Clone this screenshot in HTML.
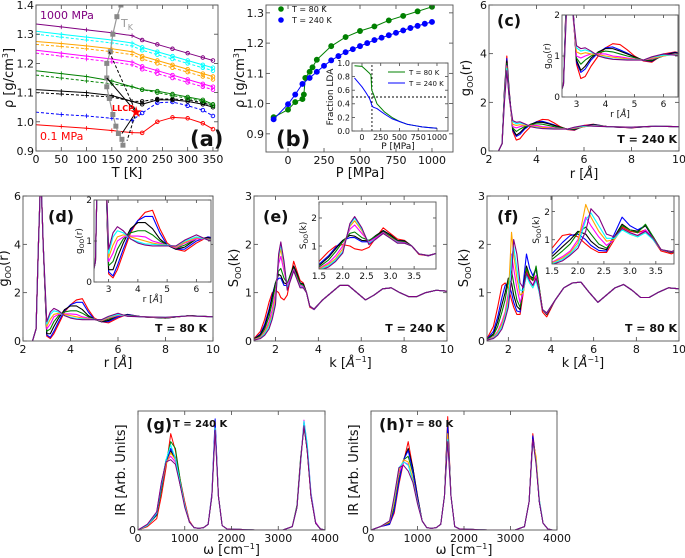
<!DOCTYPE html>
<html><head><meta charset="utf-8"><style>
html,body{margin:0;padding:0;background:#fff;}
svg{display:block;font-family:"DejaVu Sans","Liberation Sans",sans-serif;}
</style></head><body>
<svg id="chart" width="685" height="558" viewBox="0 0 685 558" xmlns="http://www.w3.org/2000/svg"></svg>
<script>
// ---------- DATA ----------
// (a) density vs T
const aT = [0,50,100,150,190,210,240,270,300,330,350];
const aSeriesColors = ['red','blue','black','black','green','green','magenta','magenta','orange','orange','cyan','cyan','purple'];
const aRho = [
 [0.99,0.984,0.978,0.97,0.963,0.962,1.0,1.015,1.012,0.995,0.975],
 [1.033,1.025,1.02,1.012,1.005,1.03,1.065,1.068,1.055,1.04,1.02],
 [1.11,1.105,1.1,1.09,1.07,1.06,1.075,1.075,1.07,1.06,1.05],
 [1.1,1.095,1.09,1.085,1.07,1.07,1.078,1.078,1.075,1.065,1.055],
 [1.175,1.165,1.155,1.14,1.12,1.11,1.105,1.095,1.085,1.075,1.06],
 [1.16,1.15,1.14,1.13,1.12,1.11,1.1,1.09,1.08,1.07,1.055],
 [1.245,1.235,1.225,1.215,1.205,1.19,1.175,1.16,1.145,1.13,1.12],
 [1.235,1.225,1.215,1.205,1.195,1.18,1.165,1.15,1.135,1.12,1.11],
 [1.275,1.268,1.26,1.25,1.24,1.225,1.21,1.195,1.18,1.165,1.155],
 [1.265,1.258,1.25,1.24,1.23,1.215,1.2,1.185,1.17,1.155,1.145],
 [1.31,1.3,1.29,1.28,1.27,1.255,1.24,1.225,1.21,1.195,1.185],
 [1.3,1.29,1.28,1.27,1.26,1.245,1.23,1.215,1.2,1.185,1.175],
 [1.335,1.325,1.315,1.305,1.295,1.28,1.265,1.25,1.235,1.22,1.21]
];
const tkT = [172,170,163,158,152,145,140,140,140,147,152,160,168];
const tkRho = [0.92,0.94,0.96,0.985,1.025,1.08,1.12,1.15,1.2,1.24,1.3,1.36,1.4];
const llcpT = [198], llcpRho = [1.033];
// (b)
const bP80 = [-100,0,50,100,110,120,150,170,200,300,400,500,600,700,800,900,1000];
const bRho80 = [0.955,0.98,1.005,1.015,1.03,1.085,1.105,1.12,1.145,1.19,1.22,1.24,1.255,1.275,1.29,1.305,1.32];
const bP240 = [-100,0,50,100,150,200,250,300,350,400,450,500,550,600,650,700,750,800,850,900,950,1000];
const bRho240 = [0.948,0.998,1.03,1.065,1.085,1.105,1.125,1.143,1.157,1.17,1.18,1.19,1.2,1.21,1.218,1.226,1.234,1.242,1.25,1.257,1.264,1.27];
const fracP = [-100,0,50,100,120,130,150,200,300,400,500,600,700,800,900,1000];
const frac80 = [0.96,0.95,0.9,0.85,0.82,0.6,0.55,0.4,0.28,0.2,0.14,0.1,0.08,0.06,0.05,0.04];
const frac240 = [0.78,0.65,0.57,0.48,0.42,0.38,0.35,0.33,0.25,0.18,0.14,0.1,0.08,0.06,0.05,0.04];
// (c),(d) g(r)
const rGrid = [2.4,2.55,2.65,2.75,2.85,3.0,3.15,3.3,3.5,3.75,4.0,4.25,4.5,4.75,5.0,5.3,5.6,6.0,6.4,7,8,9,10];
const cColors = ['red','blue','black','green','magenta','orange','cyan','purple'];
const g240 = [
 [0,0.3,2.5,3.9,2.5,0.8,0.45,0.5,0.75,1.0,1.2,1.3,1.28,1.15,1.0,0.88,0.85,1.05,1.1,1.0,0.95,1.02,1.0],
 [0,0.3,2.45,3.8,2.45,0.85,0.6,0.68,0.9,1.08,1.2,1.22,1.15,1.07,0.98,0.89,0.87,1.03,1.09,1.0,0.96,1.02,1.0],
 [0,0.3,2.4,3.7,2.4,0.9,0.65,0.75,0.95,1.1,1.18,1.18,1.12,1.05,0.98,0.9,0.88,1.02,1.08,1.0,0.96,1.02,1.0],
 [0,0.3,2.3,3.6,2.3,0.95,0.8,0.9,1.0,1.08,1.12,1.1,1.05,1.0,0.96,0.9,0.9,1.0,1.06,1.0,0.97,1.02,1.0],
 [0,0.3,2.2,3.5,2.2,1.0,0.95,1.0,1.05,1.05,1.05,1.0,0.98,0.95,0.93,0.9,0.93,1.0,1.05,1.0,0.97,1.02,1.0],
 [0,0.3,2.15,3.45,2.2,1.1,1.05,1.08,1.05,1.03,1.0,0.97,0.95,0.93,0.92,0.9,0.95,1.0,1.04,1.0,0.98,1.02,1.0],
 [0,0.3,2.1,3.4,2.2,1.2,1.12,1.15,1.1,1.0,0.97,0.93,0.92,0.91,0.91,0.9,0.97,1.02,1.03,1.0,0.98,1.02,1.0],
 [0,0.3,2.0,3.3,2.2,1.25,1.18,1.2,1.12,1.0,0.95,0.92,0.91,0.9,0.9,0.9,0.98,1.05,1.02,1.0,0.98,1.02,1.0]
];
const g80 = [
 [0,0.5,4,7,4,0.2,0.1,0.3,0.7,1.2,1.5,1.7,1.75,1.3,0.95,0.8,0.75,0.95,1.1,1.0,0.95,1.05,1.0],
 [0,0.5,4,7,4,0.25,0.15,0.4,0.8,1.25,1.5,1.6,1.6,1.2,0.9,0.8,0.8,1.0,1.1,1.0,0.95,1.05,1.0],
 [0,0.5,4,7,4,0.3,0.3,0.6,0.95,1.3,1.45,1.45,1.3,1.05,0.9,0.8,0.85,1.05,1.08,1.0,0.95,1.05,1.0],
 [0,0.5,4,7,4,0.4,0.5,0.8,1.05,1.2,1.25,1.25,1.15,1.0,0.9,0.82,0.9,1.05,1.06,1.0,0.96,1.05,1.0],
 [0,0.5,4,7,4,0.5,0.7,1.0,1.1,1.12,1.12,1.1,1.0,0.95,0.9,0.83,0.95,1.05,1.05,1.0,0.97,1.04,1.0],
 [0,0.5,4,7,4,0.6,0.9,1.1,1.15,1.1,1.05,1.0,0.95,0.92,0.9,0.85,0.97,1.08,1.04,1.0,0.97,1.04,1.0],
 [0,0.5,4,7,4,0.7,1.1,1.25,1.2,1.05,0.98,0.93,0.92,0.9,0.9,0.87,1.0,1.1,1.03,1.0,0.98,1.04,1.0],
 [0,0.5,4,7,4,0.8,1.2,1.35,1.25,1.05,0.95,0.9,0.88,0.88,0.88,0.88,1.02,1.15,1.02,1.0,0.98,1.04,1.0]
];
// (e),(f) S(k)
const kGrid = [1,1.3,1.5,1.7,1.85,2.0,2.15,2.25,2.4,2.55,2.7,2.85,3.0,3.15,3.3,3.45,3.6,3.8,4.2,4.6,5.0,5.4,5.8,6.2,6.6,7.0,7.4,7.8,8.2,8.6,9.0,9.5,10];
const s240Tail = [0.85,1.0,1.15,1.15,1.0,0.85,0.95,1.08,1.1,1.0,0.92,0.92,1.0,1.05,1.03];
const s80Tail = [0.85,1.1,1.2,1.22,1.0,0.8,0.95,1.1,1.17,1.05,0.9,0.9,1.0,1.1,1.08];
const s240Head = [
 [0.05,0.2,0.45,0.8,1.0,1.05,1.0,0.9,0.85,0.95,1.3,1.65,1.45,1.25,1.2,1.0,0.7,0.65],
 [0.04,0.15,0.35,0.65,0.95,1.2,1.3,1.3,1.15,1.15,1.35,1.55,1.4,1.2,1.18,1.0,0.72,0.65],
 [0.04,0.13,0.3,0.6,0.9,1.2,1.38,1.35,1.2,1.18,1.38,1.55,1.4,1.2,1.18,1.0,0.72,0.66],
 [0.03,0.1,0.25,0.5,0.8,1.15,1.45,1.5,1.3,1.2,1.35,1.5,1.35,1.18,1.15,1.0,0.72,0.66],
 [0.03,0.08,0.2,0.4,0.65,1.0,1.6,1.75,1.45,1.15,1.3,1.48,1.3,1.15,1.12,1.0,0.72,0.66],
 [0.03,0.07,0.18,0.35,0.55,0.9,1.7,1.9,1.55,1.1,1.25,1.45,1.3,1.12,1.1,1.0,0.72,0.66],
 [0.02,0.06,0.15,0.3,0.5,0.8,1.75,2.0,1.6,1.1,1.25,1.45,1.28,1.12,1.1,1.0,0.72,0.66],
 [0.02,0.05,0.12,0.25,0.45,0.75,1.8,2.05,1.65,1.05,1.25,1.45,1.28,1.1,1.1,1.0,0.72,0.66]
];
const s80Head = [
 [0.05,0.3,0.7,1.15,1.2,1.1,0.85,0.7,0.55,0.55,1.0,1.45,1.3,1.25,1.35,1.0,0.6,0.5],
 [0.04,0.2,0.5,0.9,1.15,1.2,1.0,0.8,0.62,0.6,1.2,1.8,1.5,1.35,1.5,1.05,0.65,0.55],
 [0.03,0.15,0.4,0.75,1.0,1.3,1.2,0.95,0.72,0.65,1.1,1.55,1.35,1.3,1.5,1.1,0.65,0.55],
 [0.03,0.12,0.3,0.6,0.85,1.25,1.45,1.2,0.85,0.7,1.05,1.5,1.35,1.25,1.55,1.1,0.65,0.56],
 [0.02,0.08,0.2,0.4,0.6,1.0,1.8,1.5,1.1,0.8,1.0,1.4,1.25,1.15,1.35,1.05,0.65,0.57],
 [0.02,0.07,0.18,0.35,0.55,0.9,2.25,1.8,1.3,0.95,1.0,1.4,1.2,1.1,1.3,1.05,0.65,0.58],
 [0.02,0.06,0.15,0.3,0.5,0.8,1.7,1.95,1.5,1.05,1.05,1.35,1.2,1.1,1.25,1.0,0.65,0.58],
 [0.02,0.05,0.12,0.25,0.45,0.7,1.3,2.1,1.8,1.2,1.1,1.4,1.25,1.15,1.3,1.05,0.65,0.58]
];
// (g),(h) IR spectra
const wGrid = [0,200,400,500,600,700,800,900,1000,1100,1200,1300,1400,1500,1580,1650,1720,1800,1900,2500,3100,3300,3400,3480,3550,3620,3700,3800,3900,4000];
const irColors = ['red','black','green','blue','magenta','orange','cyan','purple'];
const ir240 = [
 [0,0.03,0.1,0.3,0.55,0.85,0.7,0.45,0.25,0.08,0.02,0.015,0.02,0.05,0.3,0.9,0.3,0.04,0.01,0,0,0.03,0.2,0.6,0.95,0.7,0.3,0.06,0.01,0],
 [0,0.04,0.15,0.4,0.62,0.7,0.62,0.4,0.22,0.07,0.02,0.015,0.02,0.05,0.3,0.92,0.3,0.04,0.01,0,0,0.03,0.2,0.62,0.93,0.7,0.3,0.06,0.01,0],
 [0,0.04,0.13,0.35,0.6,0.78,0.72,0.45,0.22,0.07,0.02,0.015,0.02,0.05,0.3,0.9,0.3,0.04,0.01,0,0,0.03,0.22,0.65,0.9,0.72,0.32,0.06,0.01,0],
 [0,0.04,0.14,0.38,0.58,0.72,0.64,0.42,0.22,0.07,0.02,0.015,0.02,0.05,0.32,0.98,0.3,0.04,0.01,0,0,0.03,0.2,0.63,0.92,0.72,0.3,0.06,0.01,0],
 [0,0.05,0.16,0.42,0.6,0.65,0.6,0.42,0.22,0.07,0.02,0.015,0.02,0.05,0.3,0.88,0.3,0.04,0.01,0,0,0.03,0.2,0.6,0.97,0.75,0.33,0.07,0.01,0],
 [0,0.04,0.15,0.4,0.58,0.68,0.62,0.42,0.22,0.07,0.02,0.015,0.02,0.05,0.3,0.9,0.3,0.04,0.01,0,0,0.03,0.2,0.62,0.93,0.72,0.3,0.06,0.01,0],
 [0,0.04,0.15,0.4,0.62,0.75,0.63,0.42,0.22,0.07,0.02,0.015,0.02,0.05,0.3,0.9,0.3,0.04,0.01,0,0,0.03,0.2,0.6,0.96,0.76,0.32,0.06,0.01,0],
 [0,0.05,0.16,0.42,0.6,0.62,0.58,0.4,0.2,0.07,0.02,0.015,0.02,0.05,0.3,0.88,0.3,0.04,0.01,0,0,0.03,0.2,0.62,0.92,0.7,0.3,0.06,0.01,0]
];
const ir80 = [
 [0,0.03,0.05,0.15,0.4,0.6,0.78,0.55,0.3,0.08,0.02,0.015,0.02,0.05,0.3,1.0,0.3,0.03,0.01,0,0,0.03,0.25,0.85,0.6,0.25,0.06,0.01,0,0],
 [0,0.03,0.06,0.2,0.45,0.62,0.72,0.55,0.3,0.08,0.02,0.015,0.02,0.05,0.3,0.95,0.3,0.03,0.01,0,0,0.03,0.25,0.82,0.62,0.25,0.06,0.01,0,0],
 [0,0.03,0.06,0.2,0.45,0.62,0.65,0.5,0.28,0.08,0.02,0.015,0.02,0.05,0.3,0.85,0.3,0.03,0.01,0,0,0.03,0.25,0.8,0.62,0.25,0.06,0.01,0,0],
 [0,0.03,0.05,0.17,0.42,0.62,0.7,0.52,0.28,0.08,0.02,0.015,0.02,0.05,0.3,0.92,0.3,0.03,0.01,0,0,0.03,0.25,0.83,0.6,0.25,0.06,0.01,0,0],
 [0,0.03,0.07,0.25,0.5,0.6,0.58,0.45,0.25,0.08,0.02,0.015,0.02,0.05,0.3,0.8,0.3,0.03,0.01,0,0,0.03,0.25,0.78,0.62,0.27,0.06,0.01,0,0],
 [0,0.03,0.07,0.25,0.52,0.62,0.6,0.45,0.25,0.08,0.02,0.015,0.02,0.05,0.3,0.85,0.3,0.03,0.01,0,0,0.03,0.25,0.78,0.65,0.27,0.06,0.01,0,0],
 [0,0.03,0.08,0.28,0.55,0.6,0.57,0.43,0.24,0.08,0.02,0.015,0.02,0.05,0.3,0.8,0.3,0.03,0.01,0,0,0.03,0.25,0.78,0.6,0.27,0.06,0.01,0,0],
 [0,0.03,0.08,0.3,0.55,0.57,0.52,0.42,0.23,0.08,0.02,0.015,0.02,0.05,0.3,0.78,0.3,0.03,0.01,0,0,0.03,0.25,0.8,0.58,0.25,0.06,0.01,0,0]
];

// ---------- DRAWING ----------
const NS = 'http://www.w3.org/2000/svg';
const svg = document.getElementById('chart');
function mk(tag, parent) { const e = document.createElementNS(NS, tag); parent.appendChild(e); return e; }
function attrs(e, o) { for (const k in o) e.setAttribute(k, o[k]); return e; }
let clipN = 0;
function panel(name, x0, x1, y0, y1, dx, dy, xt, yt, fs, xfmt, yfmt) {
  const sx = v => x0 + (v - dx[0]) / (dx[1] - dx[0]) * (x1 - x0);
  const sy = v => y1 - (v - dy[0]) / (dy[1] - dy[0]) * (y1 - y0);
  const g = mk('g', svg);
  
  
  const bg = attrs(mk('rect', g), {x: x0, y: y0, width: x1 - x0, height: y1 - y0, fill: '#fff'});
  
  
  const cid = 'clip' + (clipN++);
  const cp = attrs(mk('clipPath', g), {id: cid});
  attrs(mk('rect', cp), {x: x0, y: y0, width: x1 - x0, height: y1 - y0});
  const series = attrs(mk('g', g), {'clip-path': 'url(#' + cid + ')'});
  
  
  const axes = mk('g', g);
  
  
  const tl = fs > 10 ? 4 : 3;
  xt.forEach(v => {
    const x = sx(v);
    attrs(mk('line', axes), {x1: x, x2: x, y1: y1, y2: y1 - tl, stroke: '#444', 'stroke-width': 0.8});
    attrs(mk('line', axes), {x1: x, x2: x, y1: y0, y2: y0 + tl, stroke: '#444', 'stroke-width': 0.8});
    const t = attrs(mk('text', axes), {x: x, y: y1 + fs + 1, 'font-size': fs, 'text-anchor': 'middle', fill: '#111'});
    t.textContent = xfmt ? xfmt(v) : String(v);
    
    
  });
  yt.forEach(v => {
    const y = sy(v);
    attrs(mk('line', axes), {x1: x0, x2: x0 + tl, y1: y, y2: y, stroke: '#444', 'stroke-width': 0.8});
    attrs(mk('line', axes), {x1: x1, x2: x1 - tl, y1: y, y2: y, stroke: '#444', 'stroke-width': 0.8});
    const t = attrs(mk('text', axes), {x: x0 - 2, y: y + fs * 0.36, 'font-size': fs, 'text-anchor': 'end', fill: '#111'});
    t.textContent = yfmt ? yfmt(v) : String(v);
    
    
  });
  const fr = attrs(mk('rect', axes), {x: x0, y: y0, width: x1 - x0, height: y1 - y0, fill: 'none', stroke: '#555', 'stroke-width': 0.9});
  
  
  return {sx, sy, series, g};
}
function line(p, xs, ys, color, w, name, dash) {
  let d = '';
  xs.forEach((x, i) => { d += (i ? 'L' : 'M') + p.sx(x).toFixed(2) + ',' + p.sy(ys[i]).toFixed(2); });
  const e = attrs(mk('path', p.series), {d: d, fill: 'none', stroke: color, 'stroke-width': w, 'stroke-linejoin': 'round'});
  if (dash) e.setAttribute('stroke-dasharray', dash);
  
  
  return e;
}
function dots(p, xs, ys, color, r, name, filled, shape) {
  xs.forEach((x, i) => {
    let e;
    const cx = p.sx(x), cy = p.sy(ys[i]);
    if (shape === 'sq') {
      e = attrs(mk('rect', p.series), {x: cx - r, y: cy - r, width: 2 * r, height: 2 * r, fill: color});
    } else if (shape === 'plus') {
      e = attrs(mk('path', p.series), {d: 'M' + (cx - r) + ',' + cy + 'H' + (cx + r) + 'M' + cx + ',' + (cy - r) + 'V' + (cy + r), stroke: color, 'stroke-width': 0.8, fill: 'none'});
    } else {
      e = attrs(mk('circle', p.series), {cx: cx, cy: cy, r: r, fill: filled ? color : 'none', stroke: color, 'stroke-width': 0.9});
    }
    
    
  });
}
function text(str, x, y, size, opts) {
  opts = opts || {};
  const t = attrs(mk('text', svg), {x: x, y: y, 'font-size': size, fill: opts.fill || '#111', 'text-anchor': opts.anchor || 'start'});
  if (opts.bold) t.setAttribute('font-weight', 'bold');
  if (opts.rot) t.setAttribute('transform', 'rotate(-90 ' + x + ' ' + y + ')');
  t.innerHTML = str;
  
  
  return t;
}
const f1 = v => v.toFixed(1);

// ---- (a)
const pa = panel('panel-a', 36, 218, 5, 151, [0, 360], [0.9, 1.4], [0,50,100,150,200,250,300,350], [0.9,1.0,1.1,1.2,1.3,1.4], 11, null, f1);
aRho.forEach((ys, i) => {
  line(pa, aT, ys, aSeriesColors[i], 1, 'density-isobar-' + i, i % 2 ? '3,2' : null);
  dots(pa, aT.slice(5), ys.slice(5), aSeriesColors[i], 1.8, 'density-marker');
  dots(pa, aT.slice(1, 5), ys.slice(1, 5), aSeriesColors[i], 2.2, 'density-plus-marker', false, 'plus');
});
line(pa, tkT, tkRho, '#999', 1.2, 'tk-line');
dots(pa, tkT, tkRho, '#888', 2.5, 'tk-marker', true, 'sq');
line(pa, [145, llcpT[0], 180], [1.24, llcpRho[0], 0.935], '#000', 1, 'spinodal-dashed', '3,2');
line(pa, [140, llcpT[0], 170], [1.15, llcpRho[0], 0.96], '#000', 1, 'spinodal-solid');
const star = attrs(mk('text', pa.series), {x: pa.sx(llcpT[0]), y: pa.sy(llcpRho[0]) + 5, 'font-size': 15, fill: 'red', 'text-anchor': 'middle'});
star.textContent = '★';


text('1000 MPa', 40, 19, 11, {fill: 'purple', name: 'label-1000mpa'});
text('0.1 MPa', 40, 140, 11, {fill: 'red', name: 'label-01mpa'});
text('T<tspan font-size="8" dy="3">K</tspan>', 121, 27, 11, {fill: '#999', name: 'tk-label'});
text('LLCP', 112, 111, 8, {fill: 'red', bold: true, name: 'llcp-label'});
text('(a)', 190, 146, 21, {bold: true, name: 'panel-a-letter'});
text('T [K]', 127, 177, 13, {anchor: 'middle', name: 'x-axis-title-a'});
text('ρ [g/cm<tspan font-size="8" dy="-5">3</tspan><tspan dy="5">]</tspan>', 13, 78, 13, {anchor: 'middle', rot: true, name: 'y-axis-title-a'});

// ---- (b)
const pb = panel('panel-b', 266, 453, 5, 152, [-153, 1146], [0.84, 1.326], [0,250,500,750,1000], [0.9,1.0,1.1,1.2,1.3], 11, null, f1);
line(pb, bP80, bRho80, 'green', 1, 'rho-80k-line');
dots(pb, bP80, bRho80, 'green', 2.5, 'rho-80k-marker', true);
line(pb, bP240, bRho240, 'blue', 1, 'rho-240k-line');
dots(pb, bP240, bRho240, 'blue', 2.5, 'rho-240k-marker', true);
[['green','T = 80 K',11],['blue','T = 240 K',22]].forEach(l => {
  const c = attrs(mk('circle', svg), {cx: 281, cy: l[2] - 2, r: 2.8, fill: l[0]});
  
  
  text(l[1], 292, l[2] + 1, 8, {name: 'legend-entry'});
});
text('(b)', 276, 146, 21, {bold: true, name: 'panel-b-letter'});
text('P [MPa]', 360, 177, 13, {anchor: 'middle', name: 'x-axis-title-b'});
text('ρ [g/cm<tspan font-size="8" dy="-5">3</tspan><tspan dy="5">]</tspan>', 244, 78, 13, {anchor: 'middle', rot: true, name: 'y-axis-title-b'});
const pbi = panel('panel-b-inset', 352, 448, 63, 131, [-133, 1147], [0, 1], [0,250,500,750,1000], [0,0.2,0.4,0.6,0.8,1.0], 8, null, f1);
line(pbi, [-133, 1147], [0.5, 0.5], '#000', 0.9, 'half-fraction-line', '2,2');
line(pbi, [133, 133], [0, 1], '#000', 0.9, 'threshold-pressure-line', '2,2');
line(pbi, fracP, frac80, 'green', 1, 'fraction-80k');
line(pbi, fracP, frac240, 'blue', 1, 'fraction-240k');
[['green','T = 80 K',75],['blue','T = 240 K',86]].forEach(l => {
  const ln = attrs(mk('line', svg), {x1: 388, x2: 405, y1: l[2] - 3, y2: l[2] - 3, stroke: l[0], 'stroke-width': 1});
  
  
  text(l[1], 409, l[2], 7, {name: 'inset-legend-entry'});
});
text('P [MPa]', 398, 149, 9, {anchor: 'middle', name: 'inset-x-title-b'});
text('Fraction LDA', 333, 97, 9, {anchor: 'middle', rot: true, name: 'inset-y-title-b'});

// ---- g(r) panels
function grPanels(tag, x0, x1, y0, y1, data, ins, letterPos, tempPos, tempText, xtitleY, ylabX) {
  const p = panel('panel-' + tag, x0, x1, y0, y1, [2, 10], [0, 6], [2,4,6,8,10], [0,2,4,6], 11);
  data.forEach((ys, i) => line(p, rGrid, ys, cColors[i], 1.1, 'goo-curve-' + cColors[i]));
  const pi = panel('panel-' + tag + '-inset', ins[0], ins[1], ins[2], ins[3], [2.5, 6.5], [0, 2], [3,4,5,6], [0,1,2], 9);
  data.forEach((ys, i) => line(pi, rGrid, ys, cColors[i], 1.1, 'inset-goo-curve-' + cColors[i]));
  text('(' + tag + ')', letterPos[0], letterPos[1], 16, {bold: true, name: 'panel-' + tag + '-letter'});
  text(tempText, tempPos[0], tempPos[1], 11, {bold: true, anchor: 'end', name: 'temperature-label-' + tag});
  text('r [<tspan font-style="italic">Å</tspan>]', (x0 + x1) / 2, xtitleY, 13, {anchor: 'middle', name: 'x-axis-title-' + tag});
  text('g<tspan font-size="8" dy="3">OO</tspan><tspan dy="-3">(r)</tspan>', ylabX, (y0 + y1) / 2, 13, {anchor: 'middle', rot: true, name: 'y-axis-title-' + tag});
  text('r [<tspan font-style="italic">Å</tspan>]', (ins[0] + ins[1]) / 2, ins[3] + 20, 9, {anchor: 'middle', name: 'inset-x-title-' + tag});
  text('g<tspan font-size="6" dy="2">OO</tspan><tspan dy="-2">(r)</tspan>', ins[0] - 12, (ins[2] + ins[3]) / 2, 9, {anchor: 'middle', rot: true, name: 'inset-y-title-' + tag});
}
grPanels('c', 489, 679, 5, 151, g240, [562, 678, 15, 97], [497, 26], [677, 143], 'T = 240 K', 178, 470);
grPanels('d', 23, 213, 196, 341, g80, [94, 211, 200, 282], [48, 222], [207, 332], 'T = 80 K', 367, 8);

// ---- S(k) panels
function skPanels(tag, x0, x1, heads, tail, ins, iy, letterPos, tempPos, tempText, ylabX) {
  const p = panel('panel-' + tag, x0, x1, 196, 341, [1, 10], [0, 3], [2,4,6,8,10], [0,1,2,3], 11);
  heads.forEach((h, i) => line(p, kGrid, h.concat(tail), cColors[i], 1.1, 'soo-curve-' + cColors[i]));
  const pi = panel('panel-' + tag + '-inset', ins[0], ins[1], ins[2], ins[3], [1.5, iy[0]], [iy[1], iy[2]], [1.5,2.0,2.5,3.0,3.5], [1,2], 9, f1);
  heads.forEach((h, i) => line(pi, kGrid, h.concat(tail), cColors[i], 1.1, 'inset-soo-curve-' + cColors[i]));
  text('(' + tag + ')', letterPos[0], letterPos[1], 16, {bold: true, name: 'panel-' + tag + '-letter'});
  text(tempText, tempPos[0], tempPos[1], 11, {bold: true, anchor: 'end', name: 'temperature-label-' + tag});
  text('k [<tspan font-style="italic">Å</tspan><tspan font-size="8" dy="-5">−1</tspan><tspan dy="5">]</tspan>', (x0 + x1) / 2, 367, 13, {anchor: 'middle', name: 'x-axis-title-' + tag});
  text('S<tspan font-size="8" dy="3">OO</tspan><tspan dy="-3">(k)</tspan>', ylabX, 268, 13, {anchor: 'middle', rot: true, name: 'y-axis-title-' + tag});
  text('S<tspan font-size="6" dy="2">OO</tspan><tspan dy="-2">(k)</tspan>', ins[0] - 13, (ins[2] + ins[3]) / 2, 9, {anchor: 'middle', rot: true, name: 'inset-y-title-' + tag});
}
skPanels('e', 254, 447, s240Head, s240Tail, [319, 436, 202, 269], [3.96, 0.18, 2.57], [263, 222], [445, 332], 'T = 240 K', 238);
skPanels('f', 487, 679, s80Head, s80Tail, [552, 674, 196, 264], [3.85, 0.14, 2.55], [497, 222], [677, 332], 'T = 80 K', 468);

// ---- IR panels
function irPanel(tag, x0, x1, data, tempText, ylabX) {
  const p = panel('panel-' + tag, x0, x1, 411, 530, [0, 4000], [0, 1.05], [0,1000,2000,3000,4000], [0], 11);
  data.forEach((ys, i) => line(p, wGrid, ys, irColors[i], 1, 'ir-spectrum-' + irColors[i]));
  text('(' + tag + ')', x0 + 8, 430, 16, {bold: true, name: 'panel-' + tag + '-letter'});
  text(tempText, x0 + 35, 427, 10, {bold: true, name: 'temperature-label-' + tag});
  text('ω [cm<tspan font-size="8" dy="-5">−1</tspan><tspan dy="5">]</tspan>', (x0 + x1) / 2, 554, 13, {anchor: 'middle', name: 'x-axis-title-' + tag});
  text('IR [Arb. Units]', ylabX, 470, 13, {anchor: 'middle', rot: true, name: 'y-axis-title-' + tag});
}
irPanel('g', 138, 325, ir240, 'T = 240 K', 125);
irPanel('h', 371, 557, ir80, 'T = 80 K', 358);
</script>
</body></html>
